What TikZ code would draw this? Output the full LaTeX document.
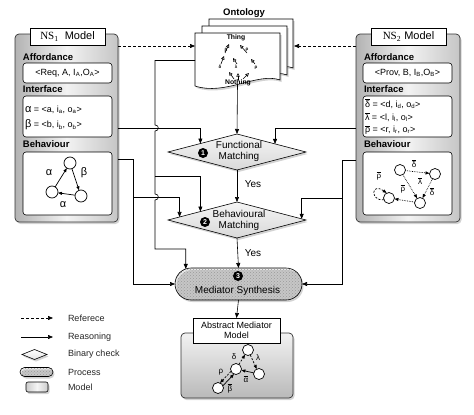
\documentclass[tikz,border=0pt]{standalone}
\usepackage{fontspec}
\setmainfont{Liberation Sans}
\newfontfamily\seriffam{Liberation Serif}
\usetikzlibrary{arrows.meta,shapes.geometric,shapes.misc,shadows,patterns,calc}
\newcommand{\ob}[1]{$\overline{\mbox{#1}}$}
\newcommand{\fsz}[1]{\fontsize{#1}{#1}\selectfont}
\begin{document}
\begin{tikzpicture}[x=1pt,y=-1pt,
  every node/.style={inner sep=0pt, outer sep=0pt},
  ln/.style={line width=0.6pt},
  arr/.style={ln,-{Triangle[length=5pt,width=4pt]}},
  refarr/.style={arr, dash pattern=on 3pt off 2pt},
  shad/.style={drop shadow={opacity=0.35,shadow xshift=1.5pt,shadow yshift=-2pt}},
  panel/.style={draw=black!80, line width=0.7pt, rounded corners=4pt, left color=gray!60, right color=gray!45, middle color=gray!10, shad},
  titlebox/.style={draw, line width=0.6pt, fill=white, font=\fsz{11}},
  innerbox/.style={draw, line width=0.6pt, fill=white, rounded corners=3pt},
  seclabel/.style={anchor=west, font=\bfseries\fsz{9.5}},
  txt/.style={font=\fsz{9}},
  st/.style={circle, draw, fill=white, line width=0.7pt, minimum size=11pt},
  garr/.style={line width=0.7pt,-{Triangle[length=4pt,width=3pt]}},
  dotarr/.style={garr, densely dotted},
  dsharr/.style={garr, dash pattern=on 2pt off 1.5pt},
  glbl/.style={font=\fsz{8}},
  check/.style={diamond, draw, line width=0.6pt, top color=gray!8, bottom color=gray!30, shad},
  numc/.style={circle, fill=black, minimum size=10pt, text=white, font=\bfseries\fsz{7}},
  procfill/.style={draw, line width=0.6pt, preaction={fill=gray!15}, pattern=crosshatch dots, pattern color=gray!80, shad},
  page/.style={draw, line width=0.6pt, fill=white, shad},
  oarr/.style={line width=0.6pt,-{Triangle[open,length=3.6pt,width=3.4pt]}},
  olbl/.style={font=\bfseries\fsz{4.5}},
  legtxt/.style={anchor=west, font=\fsz{9}, text=black!85}
]
\useasboundingbox (0,0) rectangle (474,415);

% ---------- NS1 model ----------
\node[panel, minimum width=103pt, minimum height=188pt] (ns1) at (66.5,128) {};
\node[titlebox, minimum width=75pt, minimum height=17pt] (ns1t) at (67.5,36.5) {{\seriffam NS\textsubscript{1}}\ \ Model};
\node[seclabel] (ns1al) at (23,57) {Affordance};
\node[innerbox, minimum width=89pt, minimum height=20pt, font=\fsz{9}] (ns1a) at (67.5,73) {<Req, A, I\textsubscript{A},O\textsubscript{A}>};
\node[seclabel] (ns1il) at (23,89) {Interface};
\node[innerbox, minimum width=89pt, minimum height=41pt] (ns1i) at (67.5,116.5) {};
\node[txt, anchor=west] (ns1i1) at (25,110) {\fsz{11}α\fsz{9} = <a, i\textsubscript{a}, o\textsubscript{a}>};
\node[txt, anchor=west] (ns1i2) at (25,125) {\fsz{11}β\fsz{9} = <b, i\textsubscript{b}, o\textsubscript{b}>};
\node[seclabel] (ns1bl) at (23,144.5) {Behaviour};
\node[innerbox, minimum width=89pt, minimum height=63pt] (ns1b) at (67.5,183.5) {};
\node[st, minimum size=12pt] (a1) at (70,163) {};
\node[st, minimum size=12pt] (a2) at (52,192) {};
\node[st, minimum size=12pt] (a3) at (81,196) {};
\draw[garr] (a1) -- (a3);
\draw[garr] (a3) -- (a2);
\draw[garr] (a2) -- (a1);
\node[font=\fsz{11}] (a1l) at (49,173) {α};
\node[font=\fsz{11}] (a2l) at (84,173) {β};
\node[font=\fsz{11}] (a3l) at (63,205) {α};

% ---------- NS2 model ----------
\node[panel, minimum width=104pt, minimum height=188pt] (ns2) at (408,128) {};
\node[titlebox, minimum width=75pt, minimum height=17pt] (ns2t) at (408.5,36.5) {{\seriffam NS\textsubscript{2}} Model};
\node[seclabel] (ns2al) at (364,57) {Affordance};
\node[innerbox, minimum width=89pt, minimum height=20pt, font=\fsz{9}] (ns2a) at (407.5,73) {<Prov, B, I\textsubscript{B},O\textsubscript{B}>};
\node[seclabel] (ns2il) at (364,89) {Interface};
\node[innerbox, minimum width=89pt, minimum height=41pt] (ns2i) at (407.5,116.5) {};
\node[txt, anchor=west] (ns2i1) at (365,104) {\ob{δ} = <d, i\textsubscript{d}, o\textsubscript{d}>};
\node[txt, anchor=west] (ns2i2) at (365,117) {\ob{λ} = <l, i\textsubscript{l}, o\textsubscript{l}>};
\node[txt, anchor=west] (ns2i3) at (365,130) {\ob{ρ} = <r, i\textsubscript{r}, o\textsubscript{r}>};
\node[seclabel] (ns2bl) at (364,144.5) {Behaviour};
\node[innerbox, minimum width=89pt, minimum height=63pt] (ns2b) at (407.5,183.5) {};
\node[st] (b1) at (400,170) {};
\node[st] (b2) at (435,174) {};
\node[st] (b3) at (389,198) {};
\node[st] (b4) at (420,203) {};
\draw[dotarr] (b1) -- (b2);
\draw[dotarr] (b2) -- (b4);
\draw[dotarr] (b4) -- (b3);
\draw[dotarr] (b1) -- (b4);
\draw[dsharr] (b3.200) .. controls (370,201) and (371,182) .. (b3.115);
\node[glbl] (b12l) at (414,164) {\ob{δ}};
\node[glbl] (b24l) at (432,192) {\ob{δ}};
\node[glbl] (b43l) at (403,189) {\ob{ρ}};
\node[glbl] (b14l) at (420,181) {\ob{λ}};
\node[glbl] (b33l) at (379,176) {\ob{ρ}};

% ---------- Ontology ----------
\node[font=\bfseries\fsz{9.5}] (ontt) at (244,13) {Ontology};
\path[page] (209,19) -- (293,19) -- (293,68) .. controls (272,60) and (239,82) .. (209,72) -- cycle;
\path[page] (202,26) -- (287,26) -- (287,75) .. controls (265,67) and (232,89) .. (202,79) -- cycle;
\path[page] (195,33) -- (280,33) -- (280,80) .. controls (258,72) and (225,96) .. (195,86) -- cycle;
\node[minimum width=85pt, minimum height=55pt] (ont) at (237.5,60.5) {};
\coordinate (ontb) at (237.5,84.4);
\node[font=\bfseries\fsz{6.8}] (thing) at (236,38) {Thing};
\node[font=\bfseries\fsz{6.8}] (nothing) at (238,83) {Nothing};
\draw[oarr] (234,79) -- (229,72);
\draw[oarr] (238,80) -- (238,73);
\draw[oarr] (243,79) -- (249,73);
\draw[oarr] (221,64) -- (224,56);
\draw[oarr] (225,53) -- (229,44);
\draw[oarr] (237,64) -- (233,58);
\draw[oarr] (255,64) -- (251,59);
\draw[oarr] (247,53) -- (240,45);
\node[olbl] (ol1) at (220,67) {δ};
\node[olbl] (ol2) at (226,50.5) {β};
\node[olbl] (ol3) at (236,67) {λ};
\node[olbl] (ol4) at (256,67.5) {ρ};
\node[olbl] (ol5) at (247,50) {ρ};

% ---------- Checks and process ----------
\node[check, minimum width=138pt, minimum height=36pt] (fm) at (237,152) {};
\node[align=center, font=\fsz{10}] (fmt) at (239,151.5) {Functional\\[1pt]Matching};
\node[numc] (n1) at (203,153) {1};
\node[check, minimum width=138pt, minimum height=36pt] (bm) at (237,220) {};
\node[align=center, font=\fsz{10}] (bmt) at (239,220) {Behavioural\\[1pt]Matching};
\node[numc] (n2) at (205,222) {2};
\node[rounded rectangle, procfill, minimum width=127pt, minimum height=32pt] (ms) at (238.5,284) {};
\node[numc] (n3) at (238,276) {3};
\node[font=\fsz{10}] (mst) at (237.5,291) {Mediator Synthesis};

% ---------- Abstract mediator model ----------
\node[draw=black!80, line width=0.7pt, rounded corners=4pt, top color=gray!10, bottom color=gray!55, shad, minimum width=112pt, minimum height=65pt] (mp) at (237,365.5) {};
\node[draw, line width=0.6pt, fill=white, minimum width=87pt, minimum height=25pt, align=center, font=\fsz{9}] (mt) at (236.5,330.5) {Abstract Mediator\\[1pt]Model};
\node[st] (c1) at (248,350) {};
\node[st] (c2) at (236,369) {};
\node[st] (c3) at (259,374) {};
\node[st] (c4) at (218,388) {};
\draw[dsharr] (c2) -- (c1);
\draw[dsharr] (c1) -- (c3);
\draw[garr] (c3) -- (c2);
\draw[dsharr] (c2.205) -- (c4.68);
\draw[garr] (c4.25) -- (c2.248);
\node[glbl] (c21l) at (234,357) {δ};
\node[glbl] (c13l) at (258,358) {λ};
\node[glbl] (c32l) at (246,379) {\ob{α}};
\node[glbl] (c24l) at (221,372) {ρ};
\node[glbl] (c42l) at (230,388) {\ob{β}};

% ---------- Connectors ----------
\coordinate (y46) at (0,46);
\coordinate (y128) at (0,128);
\coordinate (y159) at (0,159);
\coordinate (y160) at (0,160);
\draw[refarr] (ns1.east |- y46) -- (ont.west |- y46);
\draw[refarr] (ns2.west |- y46) -- (294,46);
\draw[arr] (ontb) -- (fm.north);
\draw[arr] (fm.south) -- (bm.north);
\draw[arr] (bm.south) -- (ms.north);
\draw[arr] (ms.south) -- (mt.north);
\node[font=\fsz{10}] (yes1) at (253,184) {Yes};
\node[font=\fsz{10}] (yes2) at (253,253) {Yes};

\coordinate (j1) at (155,60.5);
\coordinate (j2) at (155,176);
\coordinate (j3) at (155,249);
\draw[arr] (ont.west) -- (j1) -- (155,125) .. controls (159.5,125) and (159.5,131) .. (155,131)
  -- (155,194) .. controls (159.5,194) and (159.5,200) .. (155,200) -- (j3) -| (ms.164.5);
\draw[arr] (j2) -| (bm.167.3);
\draw[arr] (ns1.east |- y128) -| (fm.167.3);
\coordinate (k1) at (133,159);
\coordinate (k2) at (133,197);
\draw[arr] (ns1.east |- y159) -- (k1) |- (ms.west);
\draw[arr] (k2) -| (bm.177.5);
\draw[arr] (ns2.west |- y128) -| (fm.12.7);
\coordinate (m1) at (342,160);
\coordinate (m2) at (342,198);
\draw[arr] (ns2.west |- y160) -- (m1) |- (ms.east);
\draw[arr] (m2) -| (bm.1.96);

% ---------- Legend ----------
\coordinate (l1a) at (21,318); \coordinate (l1b) at (53,318);
\coordinate (l2a) at (21,337); \coordinate (l2b) at (53,337);
\draw[refarr] (l1a) -- (l1b);
\draw[arr] (l2a) -- (l2b);
\node[diamond, draw, line width=0.6pt, top color=white, bottom color=gray!20, shad, minimum width=25pt, minimum height=10pt] (lgd) at (34.5,354.5) {};
\node[rounded rectangle, procfill, minimum width=33pt, minimum height=9pt] (lgp) at (36.5,372) {};
\node[draw, line width=0.6pt, rounded corners=2pt, left color=gray!40, right color=gray!40, middle color=gray!8, shad, minimum width=22pt, minimum height=10pt] (lgm) at (37,387) {};
\node[legtxt] (lt1) at (68,318) {Referece};
\node[legtxt] (lt2) at (68,337) {Reasoning};
\node[legtxt] (lt3) at (68,354.5) {Binary check};
\node[legtxt] (lt4) at (68,372) {Process};
\node[legtxt] (lt5) at (68,387) {Model};
\end{tikzpicture}
\end{document}
